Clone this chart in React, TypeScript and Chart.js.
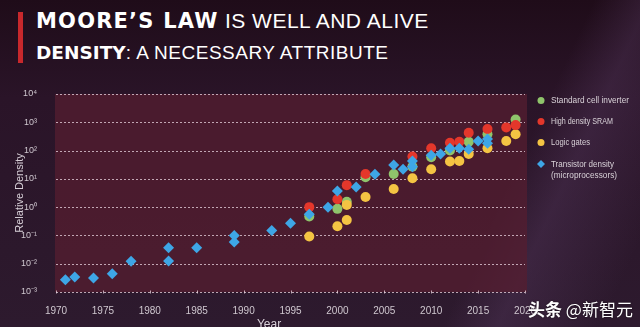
import React, { useEffect, useRef } from "react";
import { Chart, registerables } from "chart.js";
Chart.register(...registerables);

const seriesNames = ["Standard cell inverter", "High density SRAM", "Logic gates", "Transistor density"];
const seriesNote = "(microprocessors)";
const seriesColors = ["#8fc46b", "#e4372b", "#f4c443", "#3ea6e6"];

const inverterYears = [1997, 2000, 2001, 2003, 2006, 2008, 2010, 2012, 2014, 2016, 2019];
const inverterValues = [0.47, 0.87, 1.55, 11.5, 14.8, 27, 58, 100, 204, 380, 1260];

const sramYears = [1997, 2000, 2001, 2003, 2008, 2010, 2012, 2013, 2014, 2016, 2018, 2019];
const sramValues = [1.0, 1.9, 6.0, 14.8, 62, 120, 190, 204, 427, 575, 660, 794];

const logicYears = [1997, 2000, 2001, 2001, 2003, 2006, 2008, 2010, 2012, 2013, 2014, 2016, 2018, 2019];
const logicValues = [0.091, 0.21, 1.2, 0.35, 2.3, 4.4, 10.5, 22, 41, 43, 76, 120, 219, 380];

const transistorYears = [1971, 1972, 1974, 1976, 1978, 1982, 1982, 1985, 1989, 1989, 1993, 1995, 1997, 1999, 2000, 2002, 2004, 2006, 2007, 2008, 2008, 2010, 2011, 2012, 2013, 2014, 2015, 2016, 2016];
const transistorValues = [0.0027, 0.0034, 0.0031, 0.0044, 0.0123, 0.037, 0.0126, 0.037, 0.1, 0.058, 0.15, 0.27, 0.56, 1.0, 3.7, 5.2, 14.5, 31, 22, 43, 27, 69, 76, 120, 120, 112, 219, 257, 182];

const xTicks = [1970, 1975, 1980, 1985, 1990, 1995, 2000, 2005, 2010, 2015, 2020];
const yTicks = [1e-3, 1e-2, 1e-1, 1e0, 1e1, 1e2, 1e3, 1e4];
const yTickLabels = ["10⁻³", "10⁻²", "10⁻¹", "10⁰", "10¹", "10²", "10³", "10⁴"];

const toPoints = (xs: number[], ys: number[]) => xs.map((x, i) => ({ x, y: ys[i] }));

const decorPlugin = {
  id: "decor",
  beforeDraw(chart: any) {
    const { ctx, chartArea } = chart;
    ctx.save();
    ctx.fillStyle = "rgba(86, 30, 48, 0.75)";
    ctx.fillRect(chartArea.left - 1, chartArea.top, chartArea.right - chartArea.left + 3, chartArea.bottom - chartArea.top);
    ctx.restore();
  },
  beforeDatasetsDraw(chart: any) {
    const { ctx, chartArea, scales } = chart;
    ctx.save();
    ctx.strokeStyle = "rgba(235,215,225,0.75)";
    ctx.lineWidth = 1;
    ctx.setLineDash([2, 2]);
    yTicks.forEach((v) => {
      const y = Math.round(scales.y.getPixelForValue(v)) + 0.5;
      ctx.beginPath();
      ctx.moveTo(chartArea.left, y);
      ctx.lineTo(chartArea.right, y);
      ctx.stroke();
    });
    ctx.setLineDash([]);
    const yb = Math.round(chartArea.bottom) + 0.5;
    xTicks.forEach((v) => {
      const x = Math.round(scales.x.getPixelForValue(v)) + 0.5;
      ctx.beginPath();
      ctx.moveTo(x, yb - 2);
      ctx.lineTo(x, yb + 1);
      ctx.stroke();
    });
    ctx.restore();
  },
  afterDraw(chart: any) {
    const { ctx } = chart;
    ctx.save();
    ctx.fillStyle = "#d8d0d8";
    ctx.font = "11px 'Liberation Sans', Arial, sans-serif";
    ctx.textAlign = "center";
    ctx.textBaseline = "middle";
    ctx.translate(20, 193);
    ctx.rotate(-Math.PI / 2);
    ctx.fillText("Relative Density", 0, 0);
    ctx.restore();

    ctx.save();
    ctx.fillStyle = "#d8d0d8";
    ctx.font = "12px 'Liberation Sans', Arial, sans-serif";
    ctx.textAlign = "center";
    ctx.textBaseline = "top";
    ctx.fillText("Year", 269, 319);
    ctx.restore();

    ctx.save();
    const rows = [100.5, 121.5, 142.5, 164];
    ctx.font = "9.5px 'Liberation Sans', Arial, sans-serif";
    ctx.textBaseline = "middle";
    ctx.textAlign = "left";
    const widths = [78, 62, 39, 63];
    rows.forEach((y, i) => {
      ctx.fillStyle = seriesColors[i];
      if (i < 3) {
        ctx.beginPath();
        ctx.arc(541, y, 3.5, 0, Math.PI * 2);
        ctx.fill();
      } else {
        ctx.beginPath();
        ctx.moveTo(541, y - 4);
        ctx.lineTo(545, y);
        ctx.lineTo(541, y + 4);
        ctx.lineTo(537, y);
        ctx.closePath();
        ctx.fill();
      }
      ctx.fillStyle = "#d9d2d8";
      ctx.fillText(seriesNames[i], 551, y, widths[i]);
    });
    ctx.fillText(seriesNote, 551, 175.5, 66);
    ctx.restore();
  },
};

function App() {
  const canvasRef = useRef<HTMLCanvasElement | null>(null);

  useEffect(() => {
    const canvas = canvasRef.current;
    if (!canvas) return;
    const chart = new Chart(canvas, {
      type: "scatter",
      data: {
        datasets: [
          {
            label: seriesNames[3],
            data: toPoints(transistorYears, transistorValues),
            backgroundColor: seriesColors[3],
            pointStyle: "rectRot",
            pointRadius: 5.5,
            borderWidth: 0,
          },
          {
            label: seriesNames[1],
            data: toPoints(sramYears, sramValues),
            backgroundColor: seriesColors[1],
            pointStyle: "circle",
            pointRadius: 5,
            borderWidth: 0,
          },
          {
            label: seriesNames[2],
            data: toPoints(logicYears, logicValues),
            backgroundColor: seriesColors[2],
            pointStyle: "circle",
            pointRadius: 5,
            borderWidth: 0,
          },
          {
            label: seriesNames[0],
            data: toPoints(inverterYears, inverterValues),
            backgroundColor: seriesColors[0],
            pointStyle: "circle",
            pointRadius: 5,
            borderWidth: 0,
          },
        ],
      },
      options: {
        animation: false,
        responsive: false,
        devicePixelRatio: 1,
        layout: { padding: { top: 94, right: 115, left: 0, bottom: 0 } },
        plugins: { legend: { display: false }, tooltip: { enabled: false } },
        scales: {
          x: {
            type: "linear",
            min: 1970,
            max: 2020,
            afterBuildTicks: (s: any) => {
              s.ticks = xTicks.map((v) => ({ value: v }));
            },
            afterFit: (s: any) => {
              s.height = 35;
            },
            ticks: {
              color: "#cfc7cf",
              font: { size: 10, family: "'Liberation Sans', Arial, sans-serif" },
              padding: 5,
              maxRotation: 0,
              callback: (v: any) => String(v),
            },
            grid: { display: false },
            border: { display: false },
          },
          y: {
            type: "logarithmic",
            min: 1e-3,
            max: 1e4,
            afterBuildTicks: (s: any) => {
              s.ticks = yTicks.map((v) => ({ value: v }));
            },
            afterFit: (s: any) => {
              s.width = 56;
            },
            ticks: {
              color: "#cfc7cf",
              font: { size: 9, family: "'Liberation Sans', Arial, sans-serif" },
              padding: 11,
              callback: (v: any) => {
                const i = yTicks.findIndex((t) => Math.abs(Math.log10(t) - Math.log10(v)) < 1e-6);
                return i >= 0 ? yTickLabels[i] : "";
              },
            },
            grid: { display: false },
            border: { display: false },
          },
        },
      },
      plugins: [decorPlugin],
    });
    return () => chart.destroy();
  }, []);

  return (
    <div
      style={{
        position: "fixed",
        left: 0,
        top: 0,
        width: 640,
        height: 327,
        overflow: "hidden",
        background:
          "linear-gradient(115deg, rgba(0,0,0,0) 75%, rgba(90,60,100,0.35) 82%, rgba(0,0,0,0) 95%), linear-gradient(180deg, #1f0c19 0%, #2a1428 30%, #2d1a2e 100%)",
        fontFamily: "'Liberation Sans', Arial, sans-serif",
      }}
    >
      <div style={{ position: "absolute", left: 18, top: 12, width: 5, height: 51, background: "#c8282c" }} />
      <div
        style={{
          position: "absolute",
          left: 36,
          top: 9,
          color: "#ffffff",
          fontSize: 21,
          lineHeight: "24px",
          whiteSpace: "nowrap",
        }}
      >
        <span style={{ fontWeight: 700, fontFamily: "'DejaVu Sans', sans-serif", letterSpacing: 1.2 }}>MOORE’S LAW</span>
        <span style={{ letterSpacing: 0.5 }}> IS WELL AND ALIVE</span>
      </div>
      <div
        style={{
          position: "absolute",
          left: 36,
          top: 42,
          color: "#ffffff",
          fontSize: 19,
          lineHeight: "22px",
          whiteSpace: "nowrap",
        }}
      >
        <span style={{ fontWeight: 700, fontFamily: "'DejaVu Sans', sans-serif", fontSize: 18.5 }}>DENSITY</span>
        <span style={{ letterSpacing: 0.5 }}>: A NECESSARY ATTRIBUTE</span>
      </div>
      <canvas ref={canvasRef} width={640} height={327} style={{ position: "absolute", left: 0, top: 0 }} />
      <div
        style={{
          position: "absolute",
          left: 528,
          top: 298,
          color: "#ffffff",
          fontSize: 17,
          lineHeight: "22px",
          whiteSpace: "nowrap",
          fontFamily: "'Noto Sans CJK SC', sans-serif",
          textShadow: "0 0 2px rgba(0,0,0,0.6)",
        }}
      >
        <span style={{ fontWeight: 700 }}>头条</span> @新智元
      </div>
    </div>
  );
}

export default App;
